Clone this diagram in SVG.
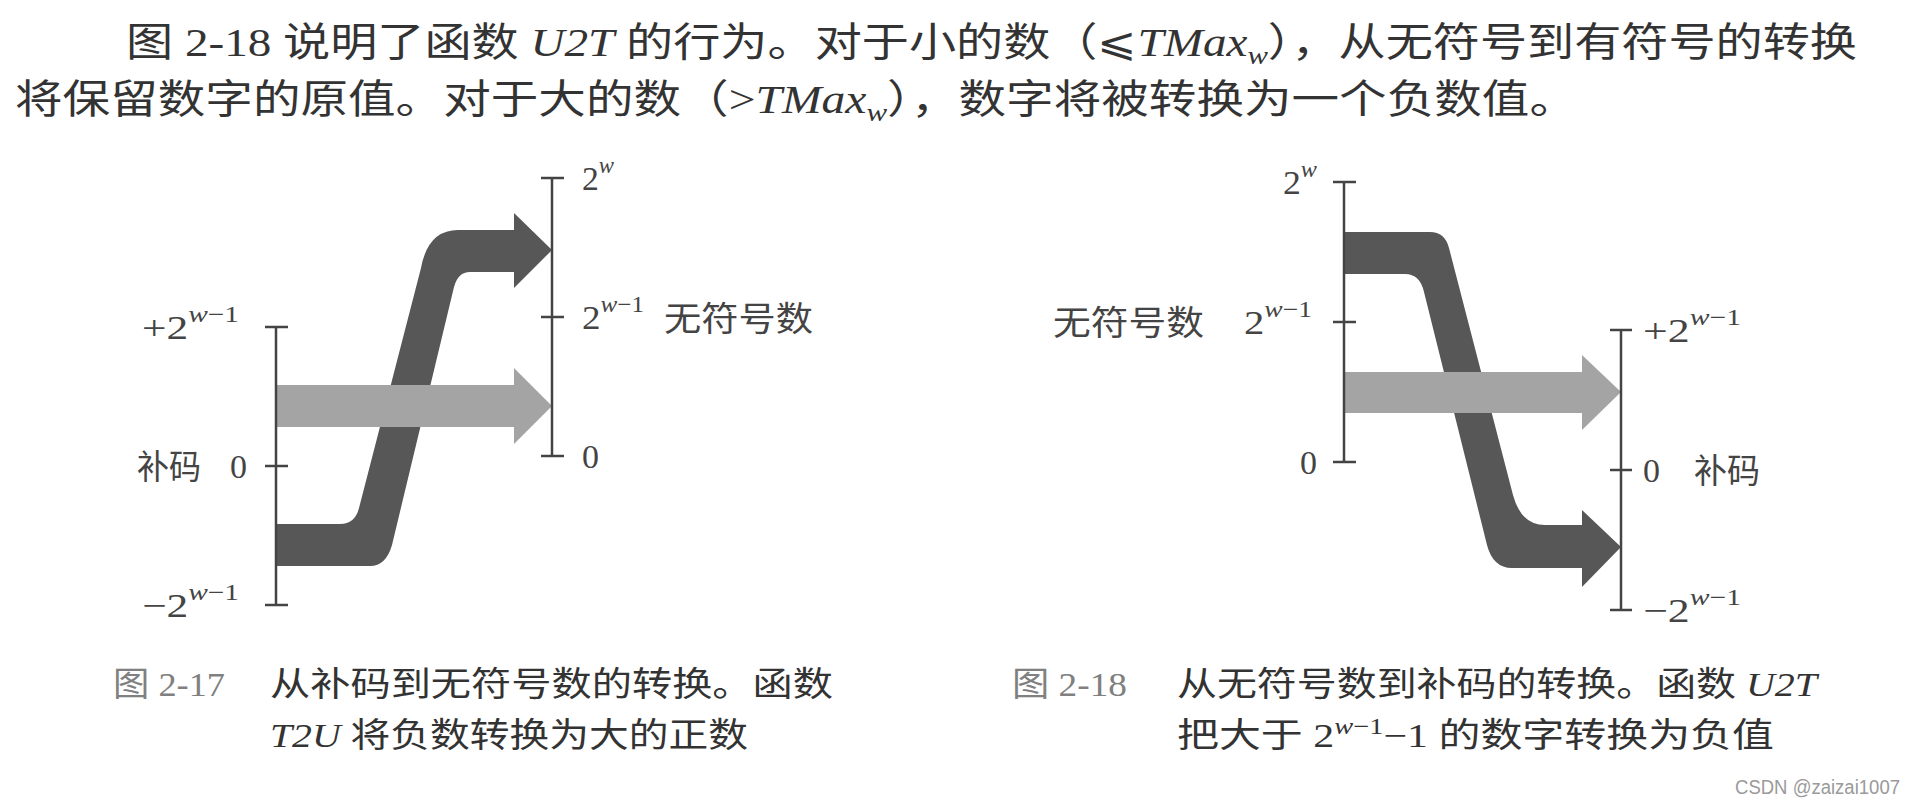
<svg xmlns="http://www.w3.org/2000/svg" width="1916" height="805" viewBox="0 0 1916 805">
<style>
.body{font-family:"Liberation Serif","Noto Sans CJK SC",serif;font-size:40px;fill:#333}
.cap{font-family:"Liberation Serif","Noto Sans CJK SC",serif;font-size:34px;fill:#333}
.capnum{font-family:"Liberation Serif","Noto Sans CJK SC",serif;font-size:34px;fill:#808080}
.lbl{font-family:"Liberation Serif","Noto Sans CJK SC",serif;font-size:34px;fill:#444}
.sup{font-size:23px}
.it{font-style:italic}
.axis{stroke:#444;stroke-width:2.5;fill:none}
.dark{fill:#575757}
.light{fill:#a4a4a4}
.wm{font-family:"Liberation Sans",sans-serif;font-size:20px;fill:#9a9a9a}
</style>

<g id="intro">
<text class="body" x="126" y="56" textLength="1731" lengthAdjust="spacingAndGlyphs">图 2-18 说明了函数 <tspan class="it">U2T</tspan> 的行为。对于小的数（⩽<tspan class="it">TMax</tspan><tspan class="it" font-size="26" dy="8">w</tspan><tspan dy="-8">），从无符号到有符号的转换</tspan></text>
<text class="body" x="15" y="113" textLength="1562" lengthAdjust="spacingAndGlyphs">将保留数字的原值。对于大的数（&gt;<tspan class="it">TMax</tspan><tspan class="it" font-size="26" dy="8">w</tspan><tspan dy="-8">），数字将被转换为一个负数值。</tspan></text>
</g>

<g id="fig17">
<g id="fig17-dark-arrow">
<path class="dark" d="M276 524 H340 Q355 524 359 508 L421 268 Q428 230 458 230 H514 V213 L552 250 L514 288 V272 H470 Q458 272 454 287 L392 545 Q386 566 370 566 H276 Z"/>
</g>
<g id="fig17-light-arrow">
<path class="light" d="M276 385 H514 V368 L552 406 L514 444 V427 H276 Z"/>
</g>
<g id="fig17-tc-axis">
<path class="axis" d="M276 327 V605 M265 327 H288 M265 466 H288 M265 605 H288"/>
<text class="lbl" x="142" y="339" textLength="97" lengthAdjust="spacingAndGlyphs">+2<tspan class="sup" dy="-17"><tspan class="it">w</tspan>−1</tspan></text>
<text class="lbl" x="137" y="479" textLength="64" lengthAdjust="spacingAndGlyphs">补码</text>
<text class="lbl" x="230" y="478">0</text>
<text class="lbl" x="142" y="617" textLength="97" lengthAdjust="spacingAndGlyphs">−2<tspan class="sup" dy="-17"><tspan class="it">w</tspan>−1</tspan></text>
</g>
<g id="fig17-u-axis">
<path class="axis" d="M552 178 V456 M541 178 H564 M541 317 H564 M541 456 H564"/>
<text class="lbl" x="582" y="190" textLength="32" lengthAdjust="spacingAndGlyphs">2<tspan class="sup it" dy="-17">w</tspan></text>
<text class="lbl" x="582" y="329" textLength="62" lengthAdjust="spacingAndGlyphs">2<tspan class="sup" dy="-17"><tspan class="it">w</tspan>−1</tspan></text>
<text class="lbl" x="664" y="331" textLength="149" lengthAdjust="spacingAndGlyphs">无符号数</text>
<text class="lbl" x="582" y="468">0</text>
</g>
<g id="fig17-caption">
<text class="capnum" x="113" y="696" textLength="112" lengthAdjust="spacingAndGlyphs">图 2-17</text>
<text class="cap" x="270" y="696" textLength="563" lengthAdjust="spacingAndGlyphs">从补码到无符号数的转换。函数</text>
<text class="cap" x="270" y="747" textLength="478" lengthAdjust="spacingAndGlyphs"><tspan class="it">T2U</tspan> 将负数转换为大的正数</text>
</g>
</g>

<g id="fig18">
<g id="fig18-dark-arrow">
<path class="dark" d="M1344 232 H1430 Q1445 232 1449 248 L1513 495 Q1521 525 1545 525 H1582 V510 L1621 547 L1582 587 V568 H1512 Q1493 568 1487 545 L1424 292 Q1420 274 1405 274 H1344 Z"/>
</g>
<g id="fig18-light-arrow">
<path class="light" d="M1344 372 H1582 V355 L1621 392 L1582 430 V413 H1344 Z"/>
</g>
<g id="fig18-u-axis">
<path class="axis" d="M1344 182 V462 M1333 182 H1356 M1333 322 H1356 M1333 462 H1356"/>
<text class="lbl" x="1283" y="194" textLength="34" lengthAdjust="spacingAndGlyphs">2<tspan class="sup it" dy="-17">w</tspan></text>
<text class="lbl" x="1053" y="335" textLength="151" lengthAdjust="spacingAndGlyphs">无符号数</text>
<text class="lbl" x="1244" y="334" textLength="68" lengthAdjust="spacingAndGlyphs">2<tspan class="sup" dy="-17"><tspan class="it">w</tspan>−1</tspan></text>
<text class="lbl" x="1300" y="474">0</text>
</g>
<g id="fig18-tc-axis">
<path class="axis" d="M1621 330 V610 M1610 330 H1632 M1610 470 H1632 M1610 610 H1632"/>
<text class="lbl" x="1643" y="342" textLength="98" lengthAdjust="spacingAndGlyphs">+2<tspan class="sup" dy="-17"><tspan class="it">w</tspan>−1</tspan></text>
<text class="lbl" x="1643" y="482">0</text>
<text class="lbl" x="1694" y="483" textLength="66" lengthAdjust="spacingAndGlyphs">补码</text>
<text class="lbl" x="1643" y="622" textLength="98" lengthAdjust="spacingAndGlyphs">−2<tspan class="sup" dy="-17"><tspan class="it">w</tspan>−1</tspan></text>
</g>
<g id="fig18-caption">
<text class="capnum" x="1012" y="696" textLength="115" lengthAdjust="spacingAndGlyphs">图 2-18</text>
<text class="cap" x="1177" y="696" textLength="640" lengthAdjust="spacingAndGlyphs">从无符号数到补码的转换。函数 <tspan class="it">U2T</tspan></text>
<text class="cap" x="1177" y="747" textLength="597" lengthAdjust="spacingAndGlyphs">把大于 2<tspan class="sup" dy="-13"><tspan class="it">w</tspan>−1</tspan><tspan dy="13">−1 的数字转换为负值</tspan></text>
</g>
</g>

<text id="watermark" class="wm" x="1735" y="794" textLength="165" lengthAdjust="spacingAndGlyphs">CSDN @zaizai1007</text>
</svg>
